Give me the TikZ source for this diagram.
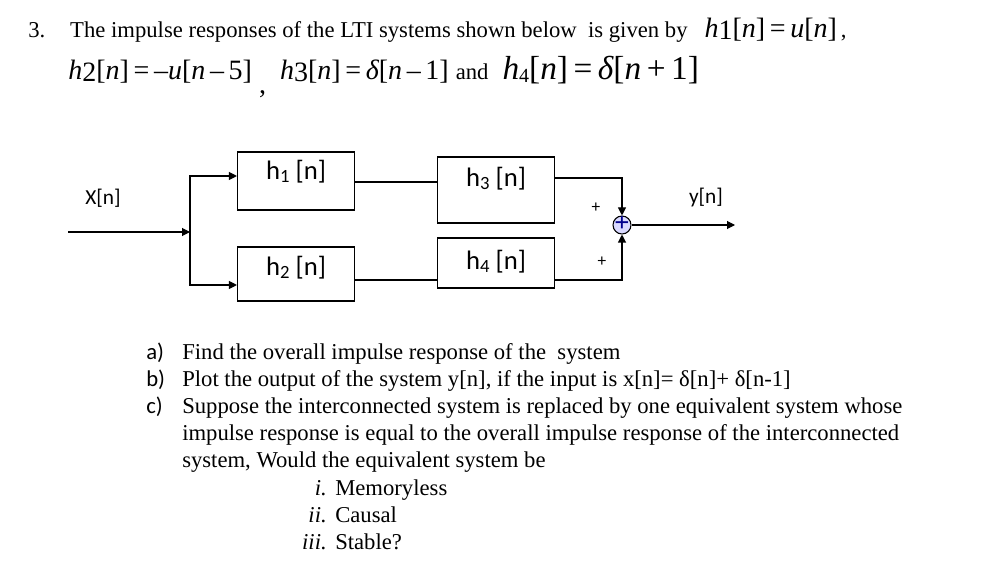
\documentclass[tikz,border=0pt]{standalone}
\usepackage{fontspec}
\setmainfont{Liberation Serif}
\newfontfamily\boxfont{Carlito}
\usetikzlibrary{positioning,arrows.meta}
\tikzset{
  blk/.style={draw,thick,minimum width=117*0.75pt,minimum height=60*0.75pt,inner sep=0pt},
  lbl/.style={font=\boxfont\fontsize{20}{22}\selectfont},
  txt/.style={anchor=base west,inner sep=0pt,font=\fontsize{17}{19}\selectfont},
  sig/.style={thick,-{Triangle[length=6pt,width=6pt]}}
}
\newcommand{\hsub}[1]{h\raisebox{-2pt}{\fontsize{14}{14}\selectfont #1}~[n]}
\newcommand{\vi}[1]{{\rmfamily\itshape #1}}
\begin{document}
\begin{tikzpicture}[x=0.75pt,y=-0.75pt]
\useasboundingbox (0,0) rectangle (1001,577);
% header
\node[txt] (head) at (28,38) {3.\hspace{1.1em}The impulse responses of the LTI systems shown below\ \ is given by\ \ \ {\fontsize{21}{21}\selectfont\vi{h}\raisebox{-1pt}{1}[\vi{n}]\,=\,\vi{u}[\vi{n}]}\,,};
\node[txt,font=\fontsize{21}{23}\selectfont] (eqs) at (68,80) {\vi{h}\raisebox{-1pt}{2}[\vi{n}]\,=\,--\vi{u}[\vi{n}\,--\,5]\ \raisebox{-10pt}{,}\ \ \vi{h}\raisebox{-1pt}{3}[\vi{n}]\,=\,\vi{δ}[\vi{n}\,--\,1]\ {\fontsize{17}{17}\selectfont and}\ \ {\fontsize{25}{25}\selectfont\vi{h}\raisebox{-2pt}{\fontsize{15}{15}\selectfont 4}[\vi{n}]\,=\,\vi{δ}[\vi{n}\,+\,1]}};
% blocks
\node[blk,minimum height=58*0.75pt] (h1) at (296,181) {};
\node[blk,minimum height=66*0.75pt] (h3) at (496,190) {};
\node[blk,minimum height=54*0.75pt] (h2) at (296,274) {};
\node[blk,minimum height=50*0.75pt] (h4) at (496,263) {};
\node[lbl] at (296,172) {\hsub{1}};
\node[lbl] at (496,179) {\hsub{3}};
\node[lbl] at (296,268) {\hsub{2}};
\node[lbl] at (496,262) {\hsub{4}};
\node[draw,thick,circle,fill=blue!15,minimum size=18*0.75pt,inner sep=0pt] (sum) at (622,225) {};
\node[text=blue!55!black,font=\bfseries\fontsize{20}{20}\selectfont] at (622,224) {+};
\coordinate (in) at (68,232);
\coordinate (split) at (190,232);
\coordinate (out) at (735,225);
\node[lbl,font=\boxfont\fontsize{16}{18}\selectfont] (xn) at (103,198) {X[n]};
\node[lbl,font=\boxfont\fontsize{16}{18}\selectfont] (yn) at (706,198) {y[n]};
\node[lbl,font=\boxfont\fontsize{13}{13}\selectfont] (p1) at (596,208) {+};
\node[lbl,font=\boxfont\fontsize{13}{13}\selectfont] (p2) at (602,262) {+};
% connectors
\draw[sig] (in) -- (split);
\draw[sig] (split) |- (h1.west|-0,176);
\draw[sig] (split) |- (h2.west|-0,285);
\draw[thick] (h1.east|-0,182) -- (h3.west|-0,182);
\draw[thick] (h2.east|-0,280) -- (h4.west|-0,280);
\draw[sig] (h3.east|-0,178) -| (sum.north);
\draw[sig] (h4.east|-0,280) -| (sum.south);
\draw[sig] (sum.east) -- (out);
% questions
\begin{scope}[every node/.append style={txt}]
\node[font=\boxfont\fontsize{17}{19}\selectfont] (qa) at (146,360) {a)};
\node[font=\boxfont\fontsize{17}{19}\selectfont] (qb) at (146,387) {b)};
\node[font=\boxfont\fontsize{17}{19}\selectfont] (qc) at (146,414) {c)};
\node (ta) at (182,360) {Find the overall impulse response of the\ \ system};
\node (tb) at (182,387) {Plot the output of the system y[n], if the input is x[n]= δ[n]+ δ[n-1]};
\node (tc1) at (182,414) {Suppose the interconnected system is replaced by one equivalent system whose};
\node (tc2) at (182,441) {impulse response is equal to the overall impulse response of the interconnected};
\node (tc3) at (182,468) {system, Would the equivalent system be};
\node[anchor=base east] (r1) at (327,496) {\textit{i.}};
\node[anchor=base east] (r2) at (327,523) {\textit{ii.}};
\node[anchor=base east] (r3) at (327,550) {\textit{iii.}};
\node (m1) at (335,496) {Memoryless};
\node (m2) at (335,523) {Causal};
\node (m3) at (335,550) {Stable?};
\end{scope}
\end{tikzpicture}
\end{document}
